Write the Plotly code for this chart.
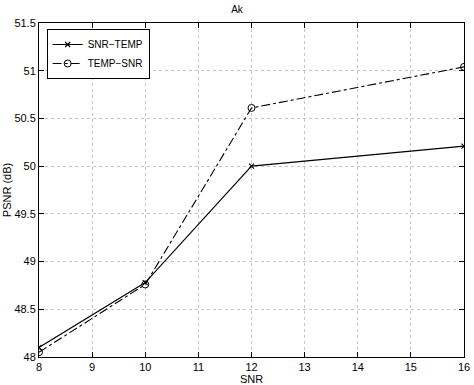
import plotly.graph_objects as go

snr = [8, 10, 12, 16]
snr_temp = [48.1, 48.78, 50.0, 50.21]
temp_snr = [48.05, 48.76, 50.61, 51.04]

x_ticks = [8, 9, 10, 11, 12, 13, 14, 15, 16]
y_ticks = [48, 48.5, 49, 49.5, 50, 50.5, 51, 51.5]

FONT = "Liberation Sans, Arial"

fig = go.Figure()
fig.add_trace(go.Scatter(
    x=snr, y=snr_temp, name="SNR\u2212TEMP", mode="lines+markers",
    line=dict(color="black", width=1.1, dash="solid"),
    marker=dict(symbol="x-thin", size=5, color="black", line=dict(width=1.1, color="black")),
))
fig.add_trace(go.Scatter(
    x=snr, y=temp_snr, name="TEMP\u2212SNR", mode="lines+markers",
    line=dict(color="black", width=1.1, dash="dashdot"),
    marker=dict(symbol="circle-open", size=7, color="black", line=dict(width=1, color="black")),
))

axis_common = dict(
    showline=True, linecolor="black", linewidth=1, mirror="ticks",
    ticks="inside", ticklen=5, tickcolor="black",
    showgrid=True, gridcolor="#c4c4c4", griddash="dot", gridwidth=1,
    zeroline=False, automargin=False,
    tickfont=dict(family=FONT, size=11, color="black"),
)

fig.update_layout(
    width=474, height=385,
    margin=dict(l=39, r=10, t=23, b=28, pad=0),
    paper_bgcolor="white", plot_bgcolor="white",
    title=dict(text="Ak", x=0.5, xanchor="center", y=0.985, yanchor="top",
               font=dict(family=FONT, size=10, color="black")),
    xaxis=dict(range=[8, 16], tickvals=x_ticks, ticktext=[str(v) for v in x_ticks],
               title=dict(text="SNR", standoff=0, font=dict(family=FONT, size=11, color="black")),
               **axis_common),
    yaxis=dict(range=[48, 51.5], tickvals=y_ticks, ticktext=[("%g" % v) for v in y_ticks],
               title=dict(text="PSNR (dB)", standoff=0, font=dict(family=FONT, size=11, color="black")),
               **axis_common),
    legend=dict(x=0.018, y=0.982, xanchor="left", yanchor="top",
                bgcolor="white", bordercolor="black", borderwidth=1,
                font=dict(family=FONT, size=10, color="black"),
                tracegroupgap=0, itemwidth=30),
    showlegend=True,
)

fig.write_html("out.html", config={"displayModeBar": False},
               post_script="document.body.style.margin='0';")
